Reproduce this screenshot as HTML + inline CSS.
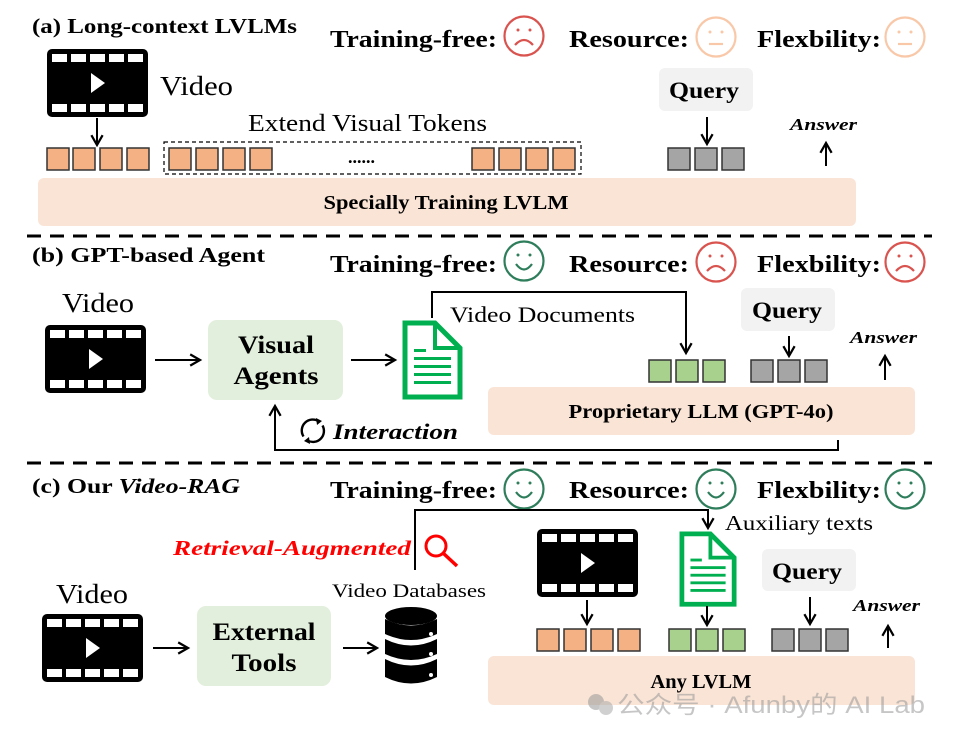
<!DOCTYPE html>
<html><head><meta charset="utf-8"><style>
html,body{margin:0;padding:0;background:#fff;width:956px;height:741px;overflow:hidden}
svg{display:block}
text{font-family:"Liberation Serif","DejaVu Serif",serif;fill:#000}
.b{font-weight:bold}
.i{font-style:italic}
</style></head><body>
<svg width="956" height="741" viewBox="0 0 956 741" xmlns="http://www.w3.org/2000/svg">
<defs>
<marker id="ah" viewBox="0 0 10 10" refX="8" refY="5" markerWidth="7" markerHeight="7" orient="auto-start-reverse">
<path d="M1,1 L8,5 L1,9" fill="none" stroke="#000" stroke-width="1.6"/>
</marker>
<g id="vid">
<rect x="0" y="0" width="101" height="68" rx="5" fill="#000"/>
<rect x="5" y="5" width="15" height="8" fill="#fff"/><rect x="24" y="5" width="15" height="8" fill="#fff"/><rect x="43" y="5" width="15" height="8" fill="#fff"/><rect x="62" y="5" width="15" height="8" fill="#fff"/><rect x="81" y="5" width="15" height="8" fill="#fff"/>
<rect x="5" y="55" width="15" height="8" fill="#fff"/><rect x="24" y="55" width="15" height="8" fill="#fff"/><rect x="43" y="55" width="15" height="8" fill="#fff"/><rect x="62" y="55" width="15" height="8" fill="#fff"/><rect x="81" y="55" width="15" height="8" fill="#fff"/>
<path d="M44,24 L58,34 L44,44 Z" fill="#fff"/>
</g>
<g id="doc">
<path d="M2,2 L32,2 L57,27 L57,76 L2,76 Z" fill="#fff" stroke="#00b050" stroke-width="5"/>
<path d="M32,2 L32,27 L57,27" fill="none" stroke="#00b050" stroke-width="4"/>
<rect x="11" y="28" width="12" height="3" fill="#00b050"/>
<rect x="11" y="36" width="37" height="3" fill="#00b050"/>
<rect x="11" y="44" width="37" height="3" fill="#00b050"/>
<rect x="11" y="52" width="37" height="3" fill="#00b050"/>
<rect x="11" y="60" width="37" height="3" fill="#00b050"/>
</g>
<g id="sad"><circle r="19.5" fill="none" stroke="#d9534f" stroke-width="2.2"/><circle cx="-6" cy="-6" r="1.5" fill="#d9534f"/><circle cx="6" cy="-6" r="1.5" fill="#d9534f"/><path d="M-9,9 Q0,-1 9,9" fill="none" stroke="#d9534f" stroke-width="2.2"/></g>
<g id="neu"><circle r="19.5" fill="none" stroke="#f8c8a8" stroke-width="2.2"/><circle cx="-6" cy="-5" r="1.5" fill="#f8c8a8"/><circle cx="6" cy="-5" r="1.5" fill="#f8c8a8"/><path d="M-7,7 L7,7" stroke="#f8c8a8" stroke-width="2.2"/></g>
<g id="hap"><circle r="19.5" fill="none" stroke="#2e7d5b" stroke-width="2.2"/><circle cx="-6" cy="-6" r="1.5" fill="#2e7d5b"/><circle cx="6" cy="-6" r="1.5" fill="#2e7d5b"/><path d="M-8,3 Q0,14 8,3" fill="none" stroke="#2e7d5b" stroke-width="2.2"/></g>
</defs>

<!-- (a) -->
<text x="32" y="33" font-size="21" class="b" textLength="265" lengthAdjust="spacingAndGlyphs">(a) Long-context LVLMs</text>
<text x="330" y="47" font-size="24" class="b" textLength="167" lengthAdjust="spacingAndGlyphs">Training-free:</text>
<use href="#sad" x="524" y="36"/>
<text x="569" y="47" font-size="24" class="b" textLength="120" lengthAdjust="spacingAndGlyphs">Resource:</text>
<use href="#neu" x="716" y="37"/>
<text x="757" y="47" font-size="24" class="b" textLength="124" lengthAdjust="spacingAndGlyphs">Flexbility:</text>
<use href="#neu" x="905" y="37"/>
<use href="#vid" x="47" y="49"/>
<text x="160" y="95" font-size="27" textLength="73" lengthAdjust="spacingAndGlyphs">Video</text>
<line x1="97" y1="118" x2="97" y2="145" stroke="#000" stroke-width="2" marker-end="url(#ah)"/>
<text x="248" y="131" font-size="24" textLength="239" lengthAdjust="spacingAndGlyphs">Extend Visual Tokens</text>
<rect x="164" y="142" width="417" height="32" fill="none" stroke="#000" stroke-width="1.2" stroke-dasharray="4,3"/>
<g fill="#f4b183" stroke="#333" stroke-width="1.5">
<rect x="47" y="148" width="22" height="22"/><rect x="73" y="148" width="22" height="22"/><rect x="100" y="148" width="22" height="22"/><rect x="127" y="148" width="22" height="22"/>
<rect x="169" y="148" width="22" height="22"/><rect x="196" y="148" width="22" height="22"/><rect x="223" y="148" width="22" height="22"/><rect x="250" y="148" width="22" height="22"/>
<rect x="472" y="148" width="22" height="22"/><rect x="499" y="148" width="22" height="22"/><rect x="526" y="148" width="22" height="22"/><rect x="553" y="148" width="22" height="22"/>
</g>
<text x="348" y="163" font-size="18" class="b">......</text>
<rect x="659" y="68" width="94" height="43" rx="6" fill="#f2f2f2"/>
<text x="704" y="98" font-size="23" class="b" text-anchor="middle" textLength="70" lengthAdjust="spacingAndGlyphs">Query</text>
<line x1="707" y1="117" x2="707" y2="144" stroke="#000" stroke-width="2" marker-end="url(#ah)"/>
<g fill="#a5a5a5" stroke="#333" stroke-width="1.5"><rect x="668" y="148" width="22" height="22"/><rect x="695" y="148" width="22" height="22"/><rect x="722" y="148" width="22" height="22"/></g>
<text x="790" y="130" font-size="17" class="b i" textLength="67" lengthAdjust="spacingAndGlyphs">Answer</text>
<line x1="826" y1="166" x2="826" y2="143" stroke="#000" stroke-width="2" marker-end="url(#ah)"/>
<rect x="38" y="178" width="818" height="48" rx="6" fill="#fae4d6"/>
<text x="446" y="209" font-size="20" class="b" text-anchor="middle" textLength="245" lengthAdjust="spacingAndGlyphs">Specially Training LVLM</text>
<line x1="27" y1="236" x2="932" y2="236" stroke="#000" stroke-width="3" stroke-dasharray="14,9"/>

<!-- (b) -->
<text x="32" y="262" font-size="21" class="b" textLength="233" lengthAdjust="spacingAndGlyphs">(b) GPT-based Agent</text>
<text x="330" y="272" font-size="24" class="b" textLength="167" lengthAdjust="spacingAndGlyphs">Training-free:</text>
<use href="#hap" x="524" y="261"/>
<text x="569" y="272" font-size="24" class="b" textLength="120" lengthAdjust="spacingAndGlyphs">Resource:</text>
<use href="#sad" x="716" y="262"/>
<text x="757" y="272" font-size="24" class="b" textLength="124" lengthAdjust="spacingAndGlyphs">Flexbility:</text>
<use href="#sad" x="905" y="262"/>
<text x="62" y="312" font-size="27" textLength="72" lengthAdjust="spacingAndGlyphs">Video</text>
<use href="#vid" x="45" y="325"/>
<line x1="155" y1="360" x2="200" y2="360" stroke="#000" stroke-width="2" marker-end="url(#ah)"/>
<rect x="208" y="320" width="135" height="80" rx="9" fill="#e2efdc"/>
<text x="276" y="353" font-size="25" class="b" text-anchor="middle" textLength="76" lengthAdjust="spacingAndGlyphs">Visual</text>
<text x="276" y="384" font-size="25" class="b" text-anchor="middle" textLength="85" lengthAdjust="spacingAndGlyphs">Agents</text>
<line x1="351" y1="360" x2="395" y2="360" stroke="#000" stroke-width="2" marker-end="url(#ah)"/>
<use href="#doc" x="403" y="321"/>
<polyline points="432,318 432,292 686,292 686,353" fill="none" stroke="#000" stroke-width="2" marker-end="url(#ah)"/>
<text x="450" y="322" font-size="22" textLength="185" lengthAdjust="spacingAndGlyphs">Video Documents</text>
<g fill="#a9d18e" stroke="#333" stroke-width="1.5"><rect x="649" y="360" width="22" height="22"/><rect x="676" y="360" width="22" height="22"/><rect x="703" y="360" width="22" height="22"/></g>
<g fill="#a5a5a5" stroke="#333" stroke-width="1.5"><rect x="751" y="360" width="22" height="22"/><rect x="778" y="360" width="22" height="22"/><rect x="805" y="360" width="22" height="22"/></g>
<rect x="741" y="288" width="94" height="43" rx="6" fill="#f2f2f2"/>
<text x="787" y="318" font-size="23" class="b" text-anchor="middle" textLength="70" lengthAdjust="spacingAndGlyphs">Query</text>
<line x1="789" y1="336" x2="789" y2="356" stroke="#000" stroke-width="2" marker-end="url(#ah)"/>
<text x="850" y="343" font-size="17" class="b i" textLength="67" lengthAdjust="spacingAndGlyphs">Answer</text>
<line x1="885" y1="380" x2="885" y2="356" stroke="#000" stroke-width="2" marker-end="url(#ah)"/>
<rect x="488" y="387" width="427" height="48" rx="6" fill="#fae4d6"/>
<text x="701" y="418" font-size="20" class="b" text-anchor="middle" textLength="265" lengthAdjust="spacingAndGlyphs">Proprietary LLM (GPT-4o)</text>
<polyline points="838,440 838,450 275,450 275,406" fill="none" stroke="#000" stroke-width="2" marker-end="url(#ah)"/>
<path d="M319,421.5 A11,11 0 0 0 303.5,436.5" fill="none" stroke="#000" stroke-width="2.4"/>
<path d="M307.5,440.5 A11,11 0 0 0 322.5,425.5" fill="none" stroke="#000" stroke-width="2.4"/>
<path d="M316,418 L322,421 L317,425 Z" fill="#000"/>
<path d="M310,444 L304,441 L309,437 Z" fill="#000"/>
<text x="333" y="439" font-size="22" class="b i" textLength="125" lengthAdjust="spacingAndGlyphs">Interaction</text>
<line x1="27" y1="463" x2="932" y2="463" stroke="#000" stroke-width="3" stroke-dasharray="14,9"/>

<!-- (c) -->
<text x="32" y="493" font-size="21" class="b" textLength="208" lengthAdjust="spacingAndGlyphs">(c) Our <tspan class="i">Video-RAG</tspan></text>
<text x="330" y="498" font-size="24" class="b" textLength="167" lengthAdjust="spacingAndGlyphs">Training-free:</text>
<use href="#hap" x="524" y="489"/>
<text x="569" y="498" font-size="24" class="b" textLength="120" lengthAdjust="spacingAndGlyphs">Resource:</text>
<use href="#hap" x="716" y="489"/>
<text x="757" y="498" font-size="24" class="b" textLength="124" lengthAdjust="spacingAndGlyphs">Flexbility:</text>
<use href="#hap" x="905" y="489"/>
<polyline points="415,570 415,510 708,510 708,528" fill="none" stroke="#000" stroke-width="2" marker-end="url(#ah)"/>
<text x="725" y="530" font-size="21" textLength="148" lengthAdjust="spacingAndGlyphs">Auxiliary texts</text>
<text x="173" y="555" font-size="21" class="b i" style="fill:#ff0000" textLength="238" lengthAdjust="spacingAndGlyphs">Retrieval-Augmented</text>
<circle cx="436" cy="546" r="10" fill="none" stroke="#ff0000" stroke-width="3"/>
<line x1="443" y1="553" x2="457" y2="566" stroke="#ff0000" stroke-width="3.5"/>
<text x="56" y="603" font-size="27" textLength="72" lengthAdjust="spacingAndGlyphs">Video</text>
<use href="#vid" x="42" y="614"/>
<line x1="153" y1="648" x2="188" y2="648" stroke="#000" stroke-width="2" marker-end="url(#ah)"/>
<rect x="197" y="606" width="134" height="80" rx="9" fill="#e2efdc"/>
<text x="264" y="640" font-size="25" class="b" text-anchor="middle" textLength="103" lengthAdjust="spacingAndGlyphs">External</text>
<text x="264" y="671" font-size="25" class="b" text-anchor="middle" textLength="65" lengthAdjust="spacingAndGlyphs">Tools</text>
<line x1="343" y1="648" x2="377" y2="648" stroke="#000" stroke-width="2" marker-end="url(#ah)"/>
<text x="332" y="597" font-size="19" textLength="154" lengthAdjust="spacingAndGlyphs">Video Databases</text>
<g>
<ellipse cx="411" cy="616" rx="26" ry="9" fill="#000"/>
<path d="M385,619 Q411,632 437,619 L437,634 Q411,646 385,634 Z" fill="#000"/>
<path d="M385,639 Q411,652 437,639 L437,654 Q411,666 385,654 Z" fill="#000"/>
<path d="M385,659 Q411,672 437,659 L437,677 Q411,690 385,677 Z" fill="#000"/>
<circle cx="431" cy="634" r="2" fill="#fff"/><circle cx="431" cy="654" r="2" fill="#fff"/><circle cx="431" cy="675" r="2" fill="#fff"/>
</g>
<use href="#vid" x="537" y="529"/>
<line x1="587" y1="600" x2="587" y2="624" stroke="#000" stroke-width="2" marker-end="url(#ah)"/>
<use href="#doc" x="680" y="532" transform="translate(680,532) scale(0.95) translate(-680,-532)"/>
<line x1="707" y1="606" x2="707" y2="625" stroke="#000" stroke-width="2" marker-end="url(#ah)"/>
<rect x="762" y="549" width="94" height="42" rx="6" fill="#f2f2f2"/>
<text x="807" y="579" font-size="23" class="b" text-anchor="middle" textLength="70" lengthAdjust="spacingAndGlyphs">Query</text>
<line x1="810" y1="597" x2="810" y2="624" stroke="#000" stroke-width="2" marker-end="url(#ah)"/>
<g fill="#f4b183" stroke="#333" stroke-width="1.5"><rect x="537" y="629" width="22" height="22"/><rect x="564" y="629" width="22" height="22"/><rect x="591" y="629" width="22" height="22"/><rect x="618" y="629" width="22" height="22"/></g>
<g fill="#a9d18e" stroke="#333" stroke-width="1.5"><rect x="669" y="629" width="22" height="22"/><rect x="696" y="629" width="22" height="22"/><rect x="723" y="629" width="22" height="22"/></g>
<g fill="#a5a5a5" stroke="#333" stroke-width="1.5"><rect x="772" y="629" width="22" height="22"/><rect x="799" y="629" width="22" height="22"/><rect x="826" y="629" width="22" height="22"/></g>
<text x="853" y="611" font-size="17" class="b i" textLength="67" lengthAdjust="spacingAndGlyphs">Answer</text>
<line x1="888" y1="648" x2="888" y2="626" stroke="#000" stroke-width="2" marker-end="url(#ah)"/>
<rect x="488" y="656" width="427" height="49" rx="6" fill="#fae4d6"/>
<text x="701" y="688" font-size="20" class="b" text-anchor="middle" textLength="101" lengthAdjust="spacingAndGlyphs">Any LVLM</text>
<g opacity="0.55">
<circle cx="596" cy="702" r="8" fill="#999"/><circle cx="606" cy="708" r="7" fill="#aaa"/>
<text x="617" y="713" font-size="24" style="fill:#999;font-family:'Liberation Sans','Noto Sans CJK SC',sans-serif" textLength="308" lengthAdjust="spacingAndGlyphs">公众号 · Afunby的 AI Lab</text>
</g>
</svg>
</body></html>
